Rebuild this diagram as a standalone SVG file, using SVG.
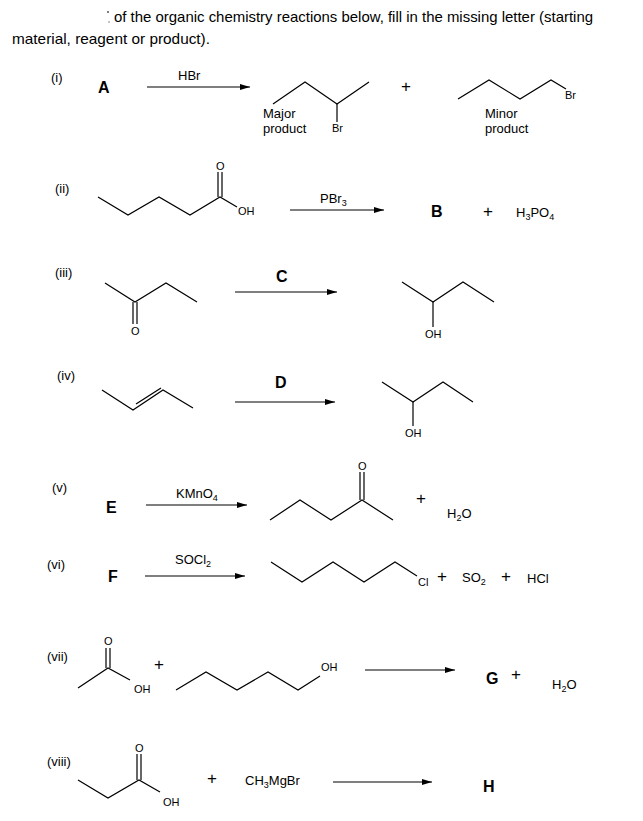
<svg xmlns="http://www.w3.org/2000/svg" width="643" height="821" viewBox="0 0 643 821">
<style>
text{font-family:"Liberation Sans",Arial,sans-serif;fill:#000}
.t{font-size:15px}.l{font-size:13px}.b{font-size:16px;font-weight:bold}.s{font-size:11px}.p{font-size:17px}
.bond{fill:none;stroke:#000;stroke-width:1.2}
.arr{stroke:#000;stroke-width:1.2;marker-end:url(#ah)}
</style>
<defs><marker id="ah" viewBox="0 0 10 6" refX="10" refY="3" markerWidth="10" markerHeight="6" markerUnits="userSpaceOnUse" orient="auto"><path d="M0,0L10,3L0,6z" fill="#000"/></marker></defs>
<rect width="643" height="821" fill="#fff"/>
<g id="title"><line x1="108" y1="11" x2="108" y2="13" stroke="#000"/><line x1="108" y1="22" x2="110" y2="22" stroke="#888"/>
<text class="t" x="114" y="22" textLength="479" lengthAdjust="spacingAndGlyphs">of the organic chemistry reactions below, fill in the missing letter (starting</text>
<text class="t" x="12" y="44" textLength="198" lengthAdjust="spacingAndGlyphs">material, reagent or product).</text></g>
<g id="connectors">
<line class="arr" x1="147" y1="87" x2="250" y2="87"/>
<line class="arr" x1="290" y1="210" x2="384" y2="210"/>
<line class="arr" x1="235" y1="292" x2="337" y2="292"/>
<line class="arr" x1="235" y1="402" x2="335" y2="402"/>
<line class="arr" x1="146" y1="505" x2="247" y2="505"/>
<line class="arr" x1="145" y1="576" x2="245" y2="576"/>
<line class="arr" x1="365" y1="670" x2="455" y2="670"/>
<line class="arr" x1="333" y1="782" x2="432" y2="782"/>
</g>
<g id="r1">
<text class="l" x="51" y="82">(i)</text><text class="b" x="98" y="93">A</text>
<text class="l" x="178" y="80">HBr</text>
<polyline class="bond" points="273,104 305,82 337,104 369,82"/><line class="bond" x1="337" y1="104" x2="337" y2="122"/>
<text class="s" x="332" y="132">Br</text>
<text class="l" x="263" y="118">Major</text><text class="l" x="263" y="133">product</text>
<text class="p" x="401" y="92">+</text>
<polyline class="bond" points="458,99 489,80 520,99 551,80 566,89"/><text class="s" x="565" y="99">Br</text>
<text class="l" x="485" y="118">Minor</text><text class="l" x="485" y="133">product</text>
</g>
<g id="r2">
<text class="l" x="55" y="193">(ii)</text>
<polyline class="bond" points="98,197 128,215 159,197 190,215 220,197 237,207"/>
<line class="bond" x1="218" y1="197" x2="218" y2="172"/><line class="bond" x1="222" y1="197" x2="222" y2="172"/>
<text class="s" x="216" y="170">O</text><text class="s" x="238" y="215">OH</text>
<text class="l" x="320" y="203">PBr<tspan font-size="9" dy="3">3</tspan></text>
<text class="b" x="431" y="217">B</text><text class="p" x="483" y="217">+</text>
<text class="l" x="516" y="217">H<tspan font-size="9" dy="3">3</tspan><tspan dy="-3">PO</tspan><tspan font-size="9" dy="3">4</tspan></text>
</g>
<g id="r3">
<text class="l" x="55" y="277">(iii)</text>
<polyline class="bond" points="105,283 135,302 166,283 197,302"/>
<line class="bond" x1="133" y1="302" x2="133" y2="324"/><line class="bond" x1="137" y1="302" x2="137" y2="324"/>
<text class="s" x="131" y="335">O</text>
<text class="b" x="276" y="282">C</text>
<polyline class="bond" points="402,282 433,302 463,282 494,302"/><line class="bond" x1="433" y1="302" x2="433" y2="327"/>
<text class="s" x="425" y="338">OH</text>
</g>
<g id="r4">
<text class="l" x="57" y="380">(iv)</text>
<polyline class="bond" points="102,390 133,410 163,390 193,408"/><line class="bond" x1="136" y1="404" x2="161" y2="388"/>
<text class="b" x="275" y="388">D</text>
<polyline class="bond" points="382,382 413,402 443,382 473,402"/><line class="bond" x1="413" y1="402" x2="413" y2="426"/>
<text class="s" x="405" y="437">OH</text>
</g>
<g id="r5">
<text class="l" x="52" y="492">(v)</text><text class="b" x="106" y="513">E</text>
<text class="l" x="176" y="498">KMnO<tspan font-size="9" dy="3">4</tspan></text>
<polyline class="bond" points="270,520 300,500 331,520 362,500 393,520"/>
<line class="bond" x1="360" y1="500" x2="360" y2="472"/><line class="bond" x1="364" y1="500" x2="364" y2="472"/>
<text class="s" x="358" y="470">O</text>
<text class="p" x="416" y="504">+</text>
<text class="l" x="447" y="518">H<tspan font-size="9" dy="3">2</tspan><tspan dy="-3">O</tspan></text>
</g>
<g id="r6">
<text class="l" x="47" y="569">(vi)</text><text class="b" x="108" y="582">F</text>
<text class="l" x="175" y="564">SOCl<tspan font-size="9" dy="3">2</tspan></text>
<polyline class="bond" points="271,562 302,582 333,562 364,582 395,562 417,576"/><text class="s" x="418" y="586">Cl</text>
<text class="p" x="437" y="582">+</text>
<text class="l" x="462" y="582">SO<tspan font-size="9" dy="3">2</tspan></text>
<text class="p" x="501" y="582">+</text><text class="l" x="527" y="583">HCl</text>
</g>
<g id="r7">
<text class="l" x="47" y="661">(vii)</text>
<polyline class="bond" points="78,688 108,668 130,680"/>
<line class="bond" x1="106" y1="668" x2="106" y2="648"/><line class="bond" x1="110" y1="668" x2="110" y2="648"/>
<text class="s" x="104" y="645">O</text><text class="s" x="134" y="693">OH</text>
<text class="p" x="154" y="670">+</text>
<polyline class="bond" points="176,690 206,672 237,690 268,672 298,690 320,676"/><text class="s" x="321" y="671">OH</text>
<text class="b" x="486" y="684">G</text><text class="p" x="511" y="680">+</text>
<text class="l" x="552" y="689">H<tspan font-size="9" dy="3">2</tspan><tspan dy="-3">O</tspan></text>
</g>
<g id="r8">
<text class="l" x="47" y="766">(viii)</text>
<polyline class="bond" points="78,780 108,798 139,780 160,792"/>
<line class="bond" x1="137" y1="780" x2="137" y2="754"/><line class="bond" x1="141" y1="780" x2="141" y2="754"/>
<text class="s" x="135" y="752">O</text><text class="s" x="163" y="806">OH</text>
<text class="p" x="207" y="784">+</text>
<text class="l" x="245" y="785">CH<tspan font-size="9" dy="3">3</tspan><tspan dy="-3">MgBr</tspan></text>
<text class="b" x="483" y="792">H</text>
</g>
</svg>
